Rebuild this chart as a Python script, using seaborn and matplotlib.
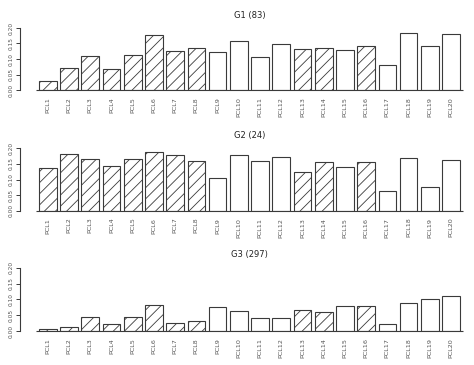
import matplotlib
matplotlib.use("Agg")
import matplotlib.pyplot as plt
import seaborn as sns
import pandas as pd

categories = ["PCL1", "PCL2", "PCL3", "PCL4", "PCL5", "PCL6", "PCL7", "PCL8", "PCL9", "PCL10",
              "PCL11", "PCL12", "PCL13", "PCL14", "PCL15", "PCL16", "PCL17", "PCL18", "PCL19", "PCL20"]
g1 = [0.030, 0.070, 0.110, 0.069, 0.112, 0.179, 0.125, 0.135, 0.124, 0.157,
      0.108, 0.149, 0.133, 0.135, 0.128, 0.141, 0.080, 0.183, 0.141, 0.181]
g2 = [0.136, 0.182, 0.165, 0.143, 0.165, 0.187, 0.179, 0.160, 0.106, 0.179,
      0.160, 0.173, 0.123, 0.157, 0.139, 0.157, 0.062, 0.168, 0.076, 0.163]
g3 = [0.005, 0.013, 0.043, 0.023, 0.043, 0.081, 0.026, 0.031, 0.075, 0.063,
      0.041, 0.041, 0.065, 0.060, 0.078, 0.080, 0.023, 0.089, 0.100, 0.109]
hatched = [True, True, True, True, True, True, True, True, False, False,
           False, False, True, True, False, True, False, False, False, False]
titles = ["G1 (83)", "G2 (24)", "G3 (297)"]
yticks = [0.00, 0.05, 0.10, 0.15, 0.20]
ytick_labels = ["0.00", "0.05", "0.10", "0.15", "0.20"]

sns.set_style("ticks")
plt.rcParams["font.family"] = ["DejaVu Sans"]
plt.rcParams["hatch.linewidth"] = 0.6
plt.rcParams["hatch.color"] = "#555555"

fig = plt.figure(figsize=(4.74, 3.65), dpi=100)
positions = [(0.7534, 0.1699), (0.4227, 0.1710), (0.0932, 0.1734)]
edge = "#3a3a3a"

for vals, title, (bottom, height) in zip([g1, g2, g3], titles, positions):
    ax = fig.add_axes([0.0422, bottom, 0.968, height])
    df = pd.DataFrame({"cat": categories, "val": vals})
    sns.barplot(data=df, x="cat", y="val", order=categories, color="white",
                edgecolor=edge, linewidth=0.8, width=1 / 1.2, saturation=1, ax=ax)
    for patch, h in zip(ax.patches, hatched):
        patch.set_facecolor("white")
        if h:
            patch.set_hatch("///")
    ax.set_xlim(-1.311, 20.311)
    ax.set_ylim(0, 0.2)
    ax.hlines(0, -0.55, 19.55, color=edge, lw=0.8, clip_on=False)
    for s in ["top", "right", "bottom"]:
        ax.spines[s].set_visible(False)
    ax.spines["left"].set_bounds(0, 0.2)
    ax.spines["left"].set_color(edge)
    ax.spines["left"].set_linewidth(0.8)
    ax.set_yticks(yticks)
    ax.set_yticklabels(ytick_labels, rotation=90, va="center", fontsize=4.2, color="#555555")
    ax.tick_params(axis="y", length=3, width=0.7, color=edge, pad=1.5)
    ax.tick_params(axis="x", length=0, pad=5)
    ax.set_xticks(range(len(categories)))
    ax.set_xticklabels(categories, rotation=90, fontsize=4.6, color="#555555")
    ax.set_xlabel("")
    ax.set_ylabel("")
    ax.set_title(title, fontsize=6, pad=7.5, color="#222222")

fig.savefig("out.png", dpi=100)
